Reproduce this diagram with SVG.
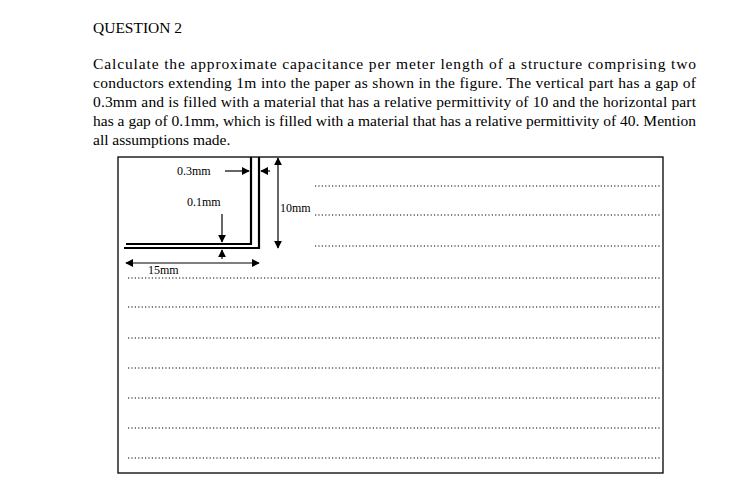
<svg xmlns="http://www.w3.org/2000/svg" width="740" height="493" viewBox="0 0 740 493">
<style>
text{font-family:"Liberation Serif",serif;fill:#000}
.t{font-size:15.5px}
.s{font-size:12px}
.dot{stroke:#000;stroke-width:1;stroke-dasharray:1.2 2.2}
.c{stroke:#000;stroke-width:2.2;fill:none}
.a{stroke:#000;stroke-width:1.2;fill:none}
</style>
<defs><marker id="ah" viewBox="0 0 10 10" refX="9" refY="5" markerWidth="8" markerHeight="8" markerUnits="userSpaceOnUse" orient="auto-start-reverse"><path d="M0,0L10,5L0,10z" fill="#000"/></marker></defs>
<rect width="740" height="493" fill="#fff"/>
<text class="t" x="93" y="33">QUESTION 2</text>
<g class="t">
<text x="93" y="69" textLength="603" lengthAdjust="spacing">Calculate the approximate capacitance per meter length of a structure comprising two</text>
<text x="93" y="88" textLength="603" lengthAdjust="spacing">conductors extending 1m into the paper as shown in the figure. The vertical part has a gap of</text>
<text x="93" y="107" textLength="603" lengthAdjust="spacing">0.3mm and is filled with a material that has a relative permittivity of 10 and the horizontal part</text>
<text x="93" y="126" textLength="603" lengthAdjust="spacing">has a gap of 0.1mm, which is filled with a material that has a relative permittivity of 40. Mention</text>
<text x="93" y="145">all assumptions made.</text>
</g>
<rect x="118" y="157" width="545" height="316" fill="none" stroke="#000" stroke-width="1.3"/>
<g id="lines">
<line class="dot" x1="315" y1="186" x2="660" y2="186"/>
<line class="dot" x1="315" y1="215" x2="660" y2="215"/>
<line class="dot" x1="315" y1="246" x2="660" y2="246"/>
<line class="dot" x1="128" y1="278" x2="660" y2="278"/>
<line class="dot" x1="128" y1="307" x2="660" y2="307"/>
<line class="dot" x1="128" y1="338" x2="660" y2="338"/>
<line class="dot" x1="128" y1="368" x2="660" y2="368"/>
<line class="dot" x1="128" y1="398" x2="660" y2="398"/>
<line class="dot" x1="128" y1="428" x2="660" y2="428"/>
<line class="dot" x1="128" y1="458" x2="660" y2="458"/>
</g>
<g id="conductor-inner"><path class="c" d="M126,244H251V157"/></g>
<g id="conductor-outer"><path class="c" d="M124,248H259V157"/></g>
<g id="connectors">
<line class="a" x1="225" y1="171" x2="249" y2="171" marker-end="url(#ah)"/>
<line class="a" x1="270" y1="171" x2="261" y2="171" marker-end="url(#ah)"/>
<line class="a" x1="278" y1="158" x2="278" y2="248" marker-start="url(#ah)" marker-end="url(#ah)"/>
<line class="a" x1="222" y1="214" x2="222" y2="242" marker-end="url(#ah)"/>
<line class="a" x1="222" y1="259" x2="222" y2="250" marker-end="url(#ah)"/>
<line class="a" x1="126" y1="263" x2="259" y2="263" marker-start="url(#ah)" marker-end="url(#ah)"/>
</g>
<g class="s">
<text x="177" y="175">0.3mm</text>
<text x="187" y="206">0.1mm</text>
<text x="280" y="212">10mm</text>
<text x="148" y="274">15mm</text>
</g>
</svg>
